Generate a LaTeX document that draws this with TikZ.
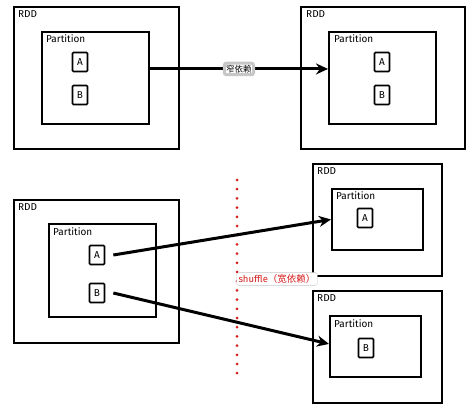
\documentclass[tikz,border=0pt]{standalone}
\usepackage{fontspec}
\setmainfont{Fira Sans}
\newfontfamily\cjk{Noto Sans CJK SC}
\usetikzlibrary{arrows.meta}
\definecolor{redline}{RGB}{215,30,30}
\begin{document}
\begin{tikzpicture}[x=1pt,y=-1pt,
  outerbox/.style={draw, line width=1.9pt, anchor=north west, inner sep=0pt},
  innerbox/.style={draw, line width=1.9pt, anchor=north west, inner sep=0pt},
  letterbox/.style={draw, line width=1.7pt, rounded corners=1pt, minimum width=15pt, minimum height=19pt, inner sep=0pt, font=\fontsize{10}{11}\selectfont},
  caption/.style={anchor=north west, inner sep=0pt, font=\fontsize{10}{11}\selectfont},
  conn/.style={line width=3pt, -{Stealth[length=12pt,width=11pt]}},
  tag/.style={fill=white, draw=black!22, rounded corners=2pt, inner sep=1.8pt, font=\cjk\fontsize{8.5}{9}\selectfont}
]
\useasboundingbox (0,0) rectangle (474,417);
\fill[white] (0,0) rectangle (474,417);

% top-left RDD
\node[outerbox, minimum width=165pt, minimum height=142pt] (o1) at (13,6) {};
\node[innerbox, minimum width=107pt, minimum height=92pt] (i1) at (41,31) {};
\node[caption] (t1) at (18,10) {RDD};
\node[caption] (p1) at (46,35) {Partition};
\node[letterbox] (a1) at (80,62) {A};
\node[letterbox] (b1) at (80,95) {B};

% top-right RDD
\node[outerbox, minimum width=164pt, minimum height=142pt] (o2) at (300,6) {};
\node[innerbox, minimum width=107pt, minimum height=92pt] (i2) at (328,31) {};
\node[caption] (t2) at (306,10) {RDD};
\node[caption] (p2) at (334,35) {Partition};
\node[letterbox] (a2) at (382,62) {A};
\node[letterbox] (b2) at (382,95) {B};

% bottom-left RDD
\node[outerbox, minimum width=165pt, minimum height=143pt] (o3) at (13,199) {};
\node[innerbox, minimum width=107pt, minimum height=93pt] (i3) at (48,223) {};
\node[caption] (t3) at (18,203) {RDD};
\node[caption] (p3) at (53,227) {Partition};
\node[letterbox] (a3) at (97,255) {A};
\node[letterbox] (b3) at (97,293) {B};

% bottom-right RDDs
\node[outerbox, minimum width=129pt, minimum height=112pt] (o4) at (312,163) {};
\node[innerbox, minimum width=91pt, minimum height=61pt] (i4) at (331,188) {};
\node[caption] (t4) at (317,167) {RDD};
\node[caption] (p4) at (336,192) {Partition};
\node[letterbox] (a4) at (365,218) {A};

\node[outerbox, minimum width=129pt, minimum height=112pt] (o5) at (312,290) {};
\node[innerbox, minimum width=91pt, minimum height=61pt] (i5) at (329,315) {};
\node[caption] (t5) at (317,294) {RDD};
\node[caption] (p5) at (334,319) {Partition};
\node[letterbox] (b5) at (366,348) {B};

% red dotted separator
\coordinate (r1) at (237,180);
\coordinate (r2) at (237,382);
\draw[redline, line width=3pt, line cap=round, dash pattern=on 0pt off 9.2pt] (r1) -- (r2);

% narrow dependency
\draw[conn] ([yshift=9pt]i1.east) -- node[tag] (n1) {窄依赖} ([yshift=9pt]i2.west);

% wide dependency
\draw[conn] ([xshift=8pt]a3.east) -- (i4.west);
\draw[conn] ([xshift=8pt]b3.east) -- ([yshift=2.5pt]i5.west);
\node[tag, text=redline, font=\fontsize{9.5}{10}\selectfont] (n2) at (277,279) {shuffle{\cjk（宽依赖）}};
\end{tikzpicture}
\end{document}
